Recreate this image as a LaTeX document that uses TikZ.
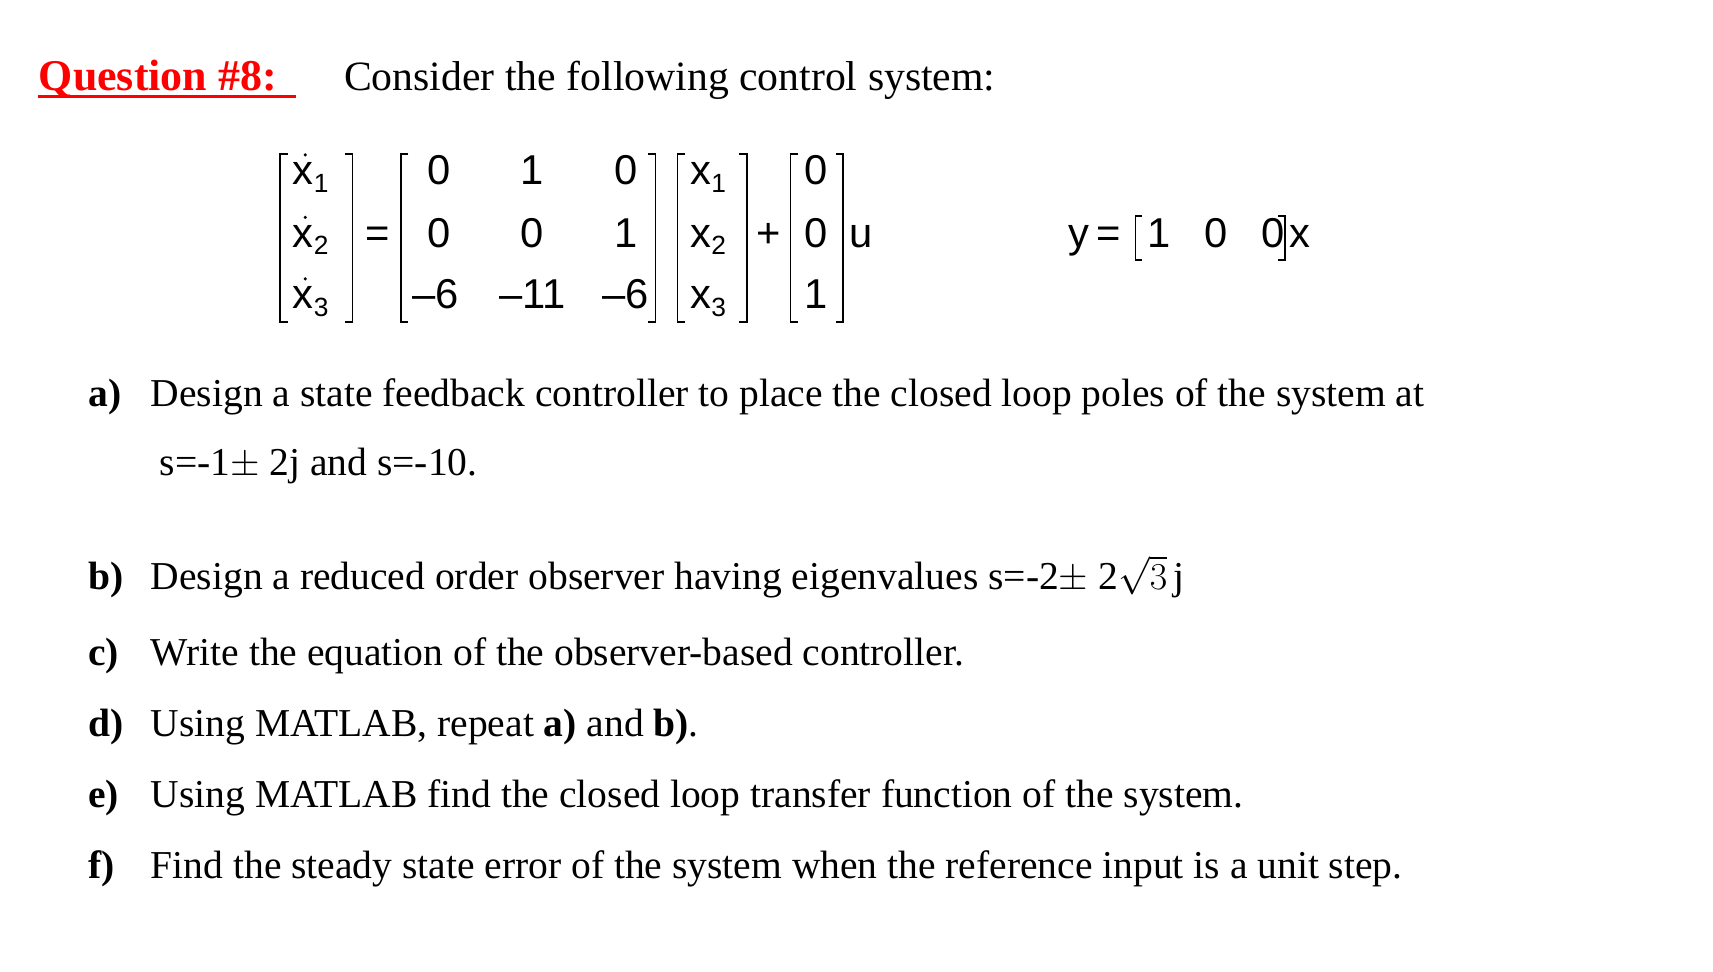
\documentclass[tikz,border=0pt]{standalone}
\usepackage{fontspec}
\setmainfont{Liberation Serif}
\newfontfamily\arial{Liberation Sans}
\begin{document}
\begin{tikzpicture}[x=0.5pt,y=-0.5pt,
  txt/.style={anchor=base west,inner sep=0pt,font=\fontsize{18}{20}\selectfont},
  lab/.style={txt,font=\fontsize{18}{20}\selectfont\bfseries},
  mx/.style={anchor=base,inner sep=0pt,font=\arial\fontsize{19}{20}\selectfont},
  br/.style={line width=0.8pt}]
\useasboundingbox (0,0) rectangle (1560,885);
\node[anchor=base west,inner sep=0pt,text=red,font=\fontsize{20}{22}\selectfont\bfseries] (q) at (35,82) {Question \#8:};
\draw[red,line width=1.2pt] (35,88) -- (270,88);
\node[txt,font=\fontsize{19}{22}\selectfont] (c) at (313,82) {Consider the following control system:};
% brackets
\foreach \l/\r in {255/321,365/597,617/680,720/768}{
 \draw[br] (\l+7,140) -- (\l,140) -- (\l,293) -- (\l+7,293);
 \draw[br] (\r-7,140) -- (\r,140) -- (\r,293) -- (\r-7,293);}
\foreach \i/\y in {1/168,2/225,3/281}{
 \node[mx] (xd\i) at (283,\y) {x\raisebox{-0.35ex}{\fontsize{12}{12}\selectfont\i}};
 \fill (278,\y-27) circle (1.6);
 \node[mx] (x\i) at (645,\y) {x\raisebox{-0.35ex}{\fontsize{12}{12}\selectfont\i}};}
\node[mx] (a11) at (400,168) {0};\node[mx] (a12) at (485,168) {1};\node[mx] (a13) at (570,168) {0};
\node[mx] (a21) at (400,225) {0};\node[mx] (a22) at (485,225) {0};\node[mx] (a23) at (570,225) {1};
\node[mx] (a31) at (397,281) {\textendash6};\node[mx] (a32) at (485,281) {\textendash11};\node[mx] (a33) at (570,281) {\textendash6};
\node[mx] (b1) at (743,168) {0};\node[mx] (b2) at (743,225) {0};\node[mx] (b3) at (743,281) {1};
\node[mx] (eq) at (344,225) {=};
\node[mx] (pl) at (700,225) {+};
\node[mx] (u) at (784,225) {u};
\node[mx,anchor=base west] (y) at (973,225) {y\,=\,};
\draw[br] (1040,197) -- (1034,197) -- (1034,237) -- (1040,237);
\node[mx,anchor=base west] (yc) at (1045,225) {1\hspace{0.8em}0\hspace{0.8em}0};
\draw[br] (1164,197) -- (1170,197) -- (1170,237) -- (1164,237);
\node[mx,anchor=base west] (yx) at (1174,225) {x};
% items
\node[lab] (la) at (80,370) {a)};
\node[txt] (ta) at (137,370) {Design a state feedback controller to place the closed loop poles of the system at};
\node[txt] (ta2) at (145,433) {s=-1$\pm$ 2j and s=-10.};
\node[lab] (lb) at (80,537) {b)};
\node[txt] (tb) at (137,537) {Design a reduced order observer having eigenvalues s=-2$\pm$ 2$\sqrt{3}\,$j};
\node[lab] (lc) at (80,606) {c)};
\node[txt] (tc) at (137,606) {Write the equation of the observer-based controller.};
\node[lab] (ld) at (80,671) {d)};
\node[txt] (td) at (137,671) {Using MATLAB, repeat \textbf{a)} and \textbf{b)}.};
\node[lab] (le) at (80,735) {e)};
\node[txt] (te) at (137,735) {Using MATLAB find the closed loop transfer function of the system.};
\node[lab] (lf) at (80,800) {f)};
\node[txt] (tf) at (137,800) {Find the steady state error of the system when the reference input is a unit step.};
\end{tikzpicture}
\end{document}
